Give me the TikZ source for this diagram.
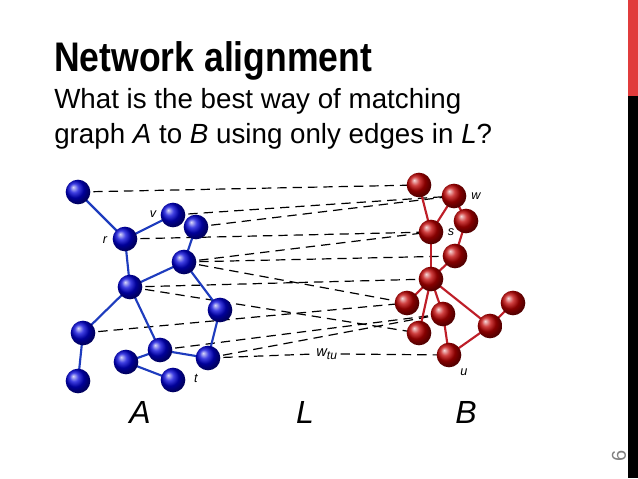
\documentclass[tikz,border=0pt]{standalone}
\usepackage{fontspec}
\setmainfont{Liberation Sans}
\newfontfamily\titlefont[FakeStretch=0.86]{Liberation Sans Bold}
\usetikzlibrary{shadings}
\definecolor{bedge}{RGB}{30,60,190}
\definecolor{redge}{RGB}{190,30,40}
\definecolor{barred}{RGB}{225,60,60}
\begin{document}
\begin{tikzpicture}[x=0.75pt,y=-0.75pt,
  bn/.style={circle,minimum size=18.5pt,inner sep=0pt,ball color=blue!85!black},
  rn/.style={circle,minimum size=18.5pt,inner sep=0pt,ball color=red!75!black},
  be/.style={draw=bedge,line width=1.6pt},
  re/.style={draw=redge,line width=1.6pt},
  al/.style={draw=black,line width=0.9pt,dash pattern=on 7pt off 4.5pt},
  lab/.style={font=\itshape\fontsize{9.5}{10}\selectfont,inner sep=0pt},
  big/.style={font=\itshape\fontsize{24}{26}\selectfont,inner sep=0pt}]
\useasboundingbox (0,0) rectangle (638,478);
\fill[white] (0,0) rectangle (638,478);
\node[rotate=90,text=gray,font=\fontsize{15}{16}\selectfont,inner sep=0pt] (pg) at (619,456) {6};
\fill[barred] (628,0) rectangle (638,96);
\fill[black] (628,96) rectangle (638,478);
\node[anchor=base west,inner sep=0pt,font=\titlefont\fontsize{31}{34}\selectfont] (title) at (54,71) {Network alignment};
\node[anchor=base west,inner sep=0pt,font=\fontsize{20.8}{26}\selectfont] (sub) at (54,108) {What is the best way of matching};
\node[anchor=base west,inner sep=0pt,font=\fontsize{20.8}{26}\selectfont] (sub2) at (54,143) {graph \textit{A} to \textit{B} using only edges in \textit{L}?};
\coordinate (cb1) at (78,192); \coordinate (cv) at (173,215); \coordinate (cb3) at (196,227);
\coordinate (cr) at (125,239); \coordinate (cb5) at (184,262); \coordinate (cb6) at (130,287);
\coordinate (cb7) at (220,310); \coordinate (cb8) at (83,333); \coordinate (cb9) at (160,350);
\coordinate (cb10) at (126,362); \coordinate (ct) at (208,358); \coordinate (cb12) at (78,381);
\coordinate (cb13) at (173,380);
\coordinate (cR1) at (419,185); \coordinate (cw) at (454,196); \coordinate (cR3) at (466,221);
\coordinate (cs) at (431,232); \coordinate (cR5) at (455,256); \coordinate (cR6) at (431,279);
\coordinate (cR7) at (407,303); \coordinate (cR8) at (443,314); \coordinate (cR9) at (419,333);
\coordinate (cR10) at (490,326); \coordinate (cR11) at (513,303); \coordinate (cu) at (449,355);
\foreach \a/\b in {b1/R1,v/w,b3/w,r/s,b5/s,b5/R5,b5/R7,b6/R6,b6/R9,b8/R7,b9/R8,t/R8}
  \draw[al] (c\a) -- (c\b);
\node[lab,font=\itshape\fontsize{11}{12}\selectfont,fill=white,inner xsep=2pt] (wtu) at (327,354) {w\textsubscript{\fontsize{9}{9}\selectfont tu}};
\draw[al] (ct) -- (wtu.west);
\draw[al] (wtu.east) -- (cu);
\foreach \a/\b in {b1/r,r/v,r/b6,b6/b5,b5/b3,b5/b7,b6/b8,b8/b12,b6/b9,b7/t,b9/t,b9/b10,b10/b13}
  \draw[be] (c\a) -- (c\b);
\foreach \a/\b in {R1/s,w/s,w/R3,R3/R5,s/R6,R5/R6,R6/R7,R6/R9,R6/R8,R6/R10,R8/u,u/R10,R10/R11}
  \draw[re] (c\a) -- (c\b);
\foreach \n in {b1,v,b3,r,b5,b6,b7,b8,b9,b10,t,b12,b13}
  \node[bn] (\n) at (c\n) {};
\foreach \n in {R1,w,R3,s,R5,R6,R7,R8,R9,R10,R11,u}
  \node[rn] (\n) at (c\n) {};
\node[lab] (lv) at (153,214) {v};
\node[lab] (lr) at (105,240) {r};
\node[lab] (lt) at (196,378) {t};
\node[lab] (lw) at (476,196) {w};
\node[lab] (ls) at (451,232) {s};
\node[lab] (lu) at (464,372) {u};
\node[big] (A) at (140,412) {A};
\node[big] (L) at (305,412) {L};
\node[big] (B) at (466,412) {B};
\end{tikzpicture}
\end{document}
